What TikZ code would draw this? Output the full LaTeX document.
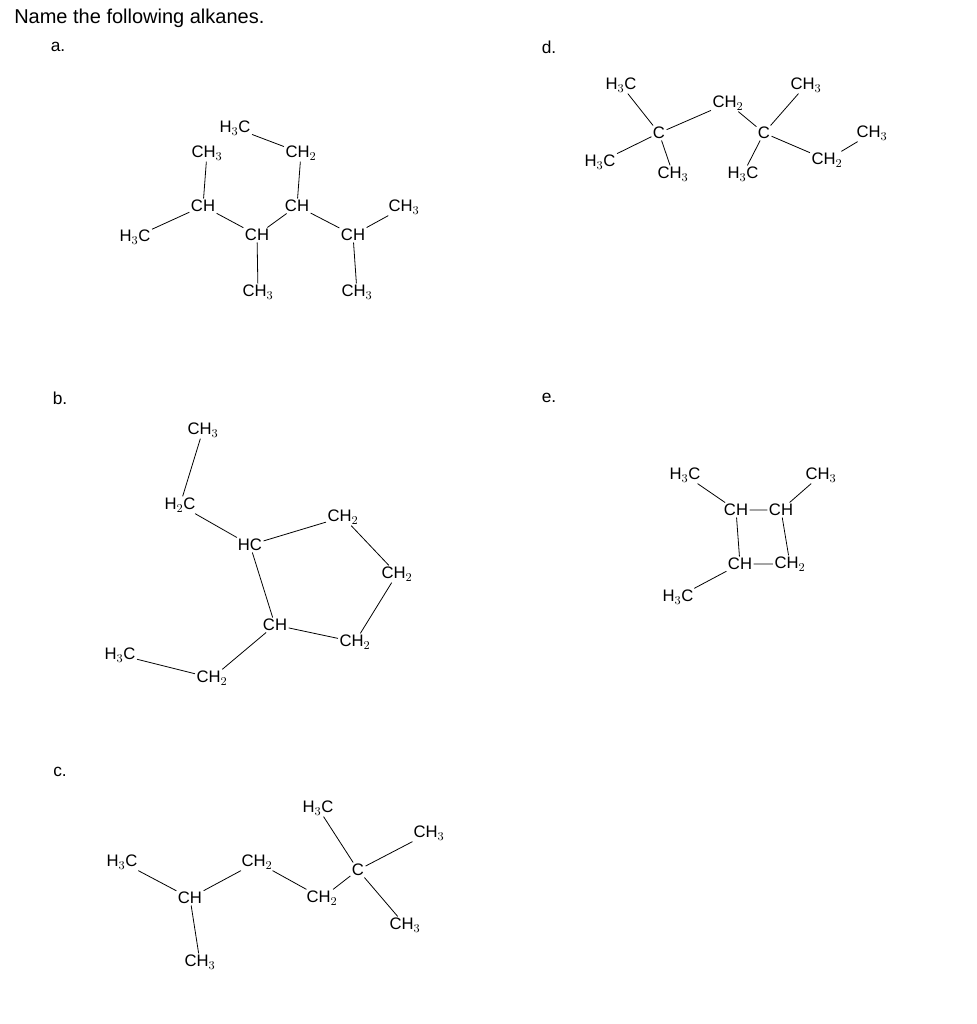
\documentclass[tikz,border=0pt]{standalone}
\usepackage{fontspec}
\setmainfont{Liberation Sans}
\begin{document}
\begin{tikzpicture}[x=0.75pt,y=-0.75pt,
  atm/.style={font=\fontsize{12.5}{14}\selectfont,inner sep=1pt},
  lbl/.style={font=\fontsize{13}{15}\selectfont,inner sep=0pt},
  bd/.style={line width=0.6pt}]
\useasboundingbox (0,0) rectangle (977,1024);
\node[font=\fontsize{15}{17}\selectfont,anchor=west,inner sep=0pt] (title) at (14,18) {Name the following alkanes.};
\node[lbl] (la) at (58,47) {a.};
\node[lbl] (ld) at (549,47) {d.};
\node[lbl] (lbb) at (60,398) {b.};
\node[lbl] (le) at (549,398) {e.};
\node[lbl] (lc) at (60,772) {c.};
% a
\node[atm] (a1) at (135,237) {H$_3$C};
\node[atm] (a2) at (203,206) {CH};
\node[atm] (a3) at (207,153) {CH$_3$};
\node[atm] (a4) at (235,128) {H$_3$C};
\node[atm] (a5) at (301,153) {CH$_2$};
\node[atm] (a6) at (297,206) {CH};
\node[atm] (a7) at (257,235) {CH};
\node[atm] (a8) at (258,292) {CH$_3$};
\node[atm] (a9) at (353,235) {CH};
\node[atm] (a10) at (404,207) {CH$_3$};
\node[atm] (a11) at (357,292) {CH$_3$};
\draw[bd] (a1)--(a2) (a2)--(a3) (a2)--(a7) (a7)--(a6) (a7)--(a8) (a6)--(a5) (a5)--(a4) (a6)--(a9) (a9)--(a10) (a9)--(a11);
% d
\node[atm] (d1) at (621,85) {H$_3$C};
\node[atm] (d2) at (659,133) {C};
\node[atm] (d3) at (600,162) {H$_3$C};
\node[atm] (d4) at (673,174) {CH$_3$};
\node[atm] (d5) at (728,103) {CH$_2$};
\node[atm] (d6) at (764,133) {C};
\node[atm] (d7) at (806,85) {CH$_3$};
\node[atm] (d8) at (743,174) {H$_3$C};
\node[atm] (d9) at (827,160) {CH$_2$};
\node[atm] (d10) at (872,133) {CH$_3$};
\draw[bd] (d2)--(d1) (d2)--(d3) (d2)--(d4) (d2)--(d5) (d5)--(d6) (d6)--(d7) (d6)--(d8) (d6)--(d9) (d9)--(d10);
% b
\node[atm] (b1) at (203,430) {CH$_3$};
\node[atm] (b2) at (180,505) {H$_2$C};
\node[atm] (b3) at (250,545) {HC};
\node[atm] (b4) at (343,517) {CH$_2$};
\node[atm] (b5) at (397,574) {CH$_2$};
\node[atm] (b6) at (355,642) {CH$_2$};
\node[atm] (b7) at (275,625) {CH};
\node[atm] (b8) at (212,678) {CH$_2$};
\node[atm] (b9) at (120,655) {H$_3$C};
\draw[bd] (b1)--(b2) (b2)--(b3) (b3)--(b4) (b4)--(b5) (b5)--(b6) (b6)--(b7) (b7)--(b3) (b7)--(b8) (b8)--(b9);
% c
\node[atm] (c1) at (122,862) {H$_3$C};
\node[atm] (c2) at (190,898) {CH};
\node[atm] (c3) at (200,962) {CH$_3$};
\node[atm] (c4) at (257,862) {CH$_2$};
\node[atm] (c5) at (322,898) {CH$_2$};
\node[atm] (c6) at (358,870) {C};
\node[atm] (c7) at (318,808) {H$_3$C};
\node[atm] (c8) at (429,833) {CH$_3$};
\node[atm] (c9) at (405,925) {CH$_3$};
\draw[bd] (c1)--(c2) (c2)--(c3) (c2)--(c4) (c4)--(c5) (c5)--(c6) (c6)--(c7) (c6)--(c8) (c6)--(c9);
% e
\node[atm] (e1) at (685,475) {H$_3$C};
\node[atm] (e2) at (821,475) {CH$_3$};
\node[atm] (e3) at (736,510) {CH};
\node[atm] (e4) at (781,510) {CH};
\node[atm] (e5) at (740,564) {CH};
\node[atm] (e6) at (790,564) {CH$_2$};
\node[atm] (e7) at (678,597) {H$_3$C};
\draw[bd] (e1)--(e3) (e2)--(e4) (e3)--(e4) (e3)--(e5) (e4)--(e6) (e5)--(e6) (e5)--(e7);
\end{tikzpicture}
\end{document}
